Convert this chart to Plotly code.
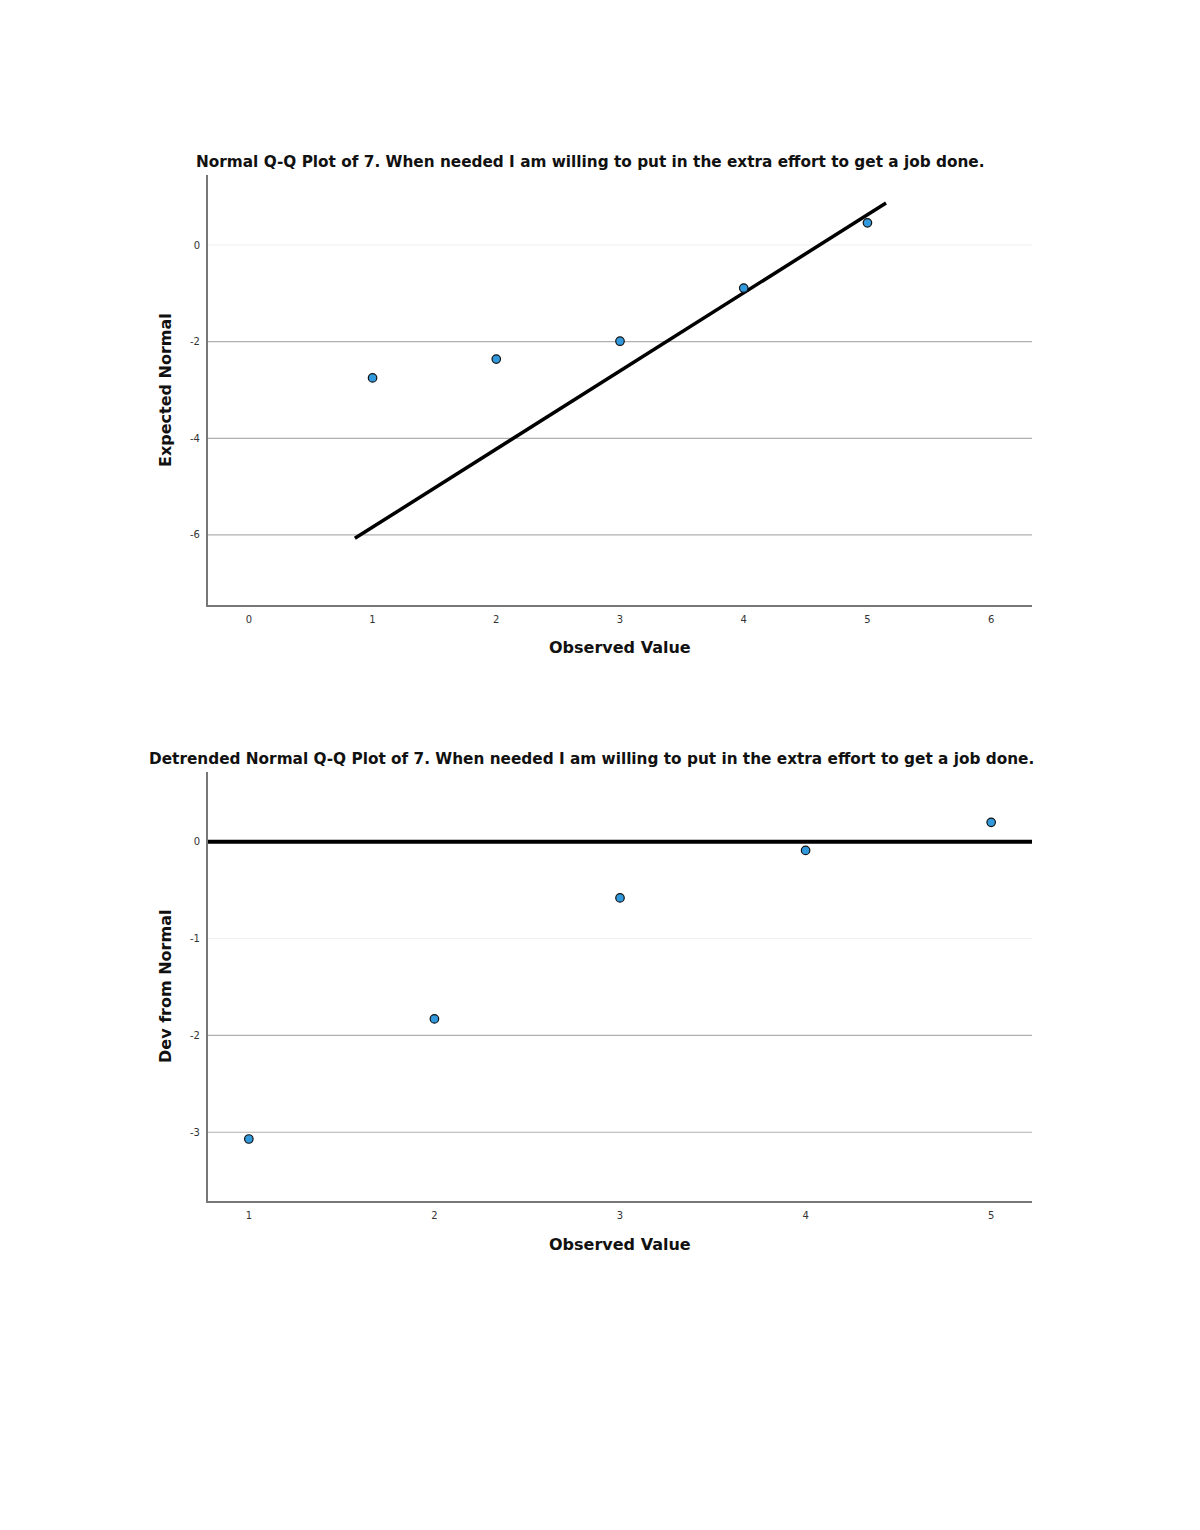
import plotly.graph_objects as go

# ---- data ----
qq_observed = [1, 2, 3, 4, 5]
qq_expected = [-2.75, -2.36, -1.99, -0.89, 0.46]
ref_line_x = [0.857, 5.15]
ref_line_y = [-6.07, 0.87]

dt_observed = [1, 2, 3, 4, 5]
dt_dev = [-3.07, -1.83, -0.58, -0.09, 0.20]

top_xticks = [0, 1, 2, 3, 4, 5, 6]
top_xlabels = ["0", "1", "2", "3", "4", "5", "6"]
top_yticks = [0, -2, -4, -6]
top_ylabels = ["0", "-2", "-4", "-6"]
top_dark_grid = [-2, -4, -6]
top_faint_grid = [0]
bot_xticks = [1, 2, 3, 4, 5]
bot_xlabels = ["1", "2", "3", "4", "5"]
bot_yticks = [0, -1, -2, -3]
bot_ylabels = ["0", "-1", "-2", "-3"]
bot_dark_grid = [-2, -3]
bot_faint_grid = [-1]

title_top = "Normal Q-Q Plot of 7. When needed I am willing to put in the extra effort to get a job done."
title_bot = "Detrended Normal Q-Q Plot of 7. When needed I am willing to put in the extra effort to get a job done."

W, H = 1200, 1530
def px_x(p):
    return p / W
def px_y(p):
    return 1 - p / H

marker = dict(size=8.5, color="#3399DD", line=dict(color="#111111", width=1.2))
tfont = dict(family="DejaVu Sans", size=10, color="#333333")
afont = dict(family="DejaVu Sans", size=16, color="#111111")
ttfont = dict(family="DejaVu Sans", size=15.3, color="#111111")

fig = go.Figure()
fig.add_trace(go.Scatter(x=ref_line_x, y=ref_line_y, mode="lines",
                         line=dict(color="black", width=3.5), xaxis="x", yaxis="y",
                         showlegend=False, hoverinfo="skip"))
fig.add_trace(go.Scatter(x=qq_observed, y=qq_expected, mode="markers", marker=marker,
                         xaxis="x", yaxis="y", showlegend=False))
fig.add_trace(go.Scatter(x=dt_observed, y=dt_dev, mode="markers", marker=marker,
                         xaxis="x2", yaxis="y2", showlegend=False))

axis_common = dict(showline=True, linecolor="#777777", linewidth=2, zeroline=False,
                   ticks="", tickfont=tfont, mirror=False, ticklabelstandoff=4,
                   showgrid=False)

def hline(xref, yref, v, color, width):
    return dict(type="line", xref=xref, yref=yref, x0=0, x1=1, y0=v, y1=v,
                line=dict(color=color, width=width), layer="below")

shapes = []
for v in top_faint_grid:
    shapes.append(hline("x domain", "y", v, "#efefef", 1))
for v in top_dark_grid:
    shapes.append(hline("x domain", "y", v, "#b0b0b0", 1.2))
for v in bot_faint_grid:
    shapes.append(hline("x2 domain", "y2", v, "#efefef", 1))
for v in bot_dark_grid:
    shapes.append(hline("x2 domain", "y2", v, "#b0b0b0", 1.2))
shapes.append(hline("x2 domain", "y2", 0, "black", 4))

def ann(text, x, y, font, angle=0):
    return dict(text=text, x=px_x(x), y=px_y(y), xref="paper", yref="paper",
                xanchor="center", yanchor="middle", showarrow=False,
                textangle=angle, font=font)

fig.update_layout(
    width=W, height=H,
    margin=dict(l=0, r=0, t=0, b=0),
    paper_bgcolor="white", plot_bgcolor="white",
    xaxis=dict(domain=[px_x(208), px_x(1032)], range=[-0.33, 6.33], anchor="y",
               tickvals=top_xticks, ticktext=top_xlabels, **axis_common),
    yaxis=dict(domain=[px_y(605), px_y(175)], range=[-7.45, 1.45], anchor="x",
               tickvals=top_yticks, ticktext=top_ylabels, **axis_common),
    xaxis2=dict(domain=[px_x(208), px_x(1032)], range=[0.78, 5.22], anchor="y2",
                tickvals=bot_xticks, ticktext=bot_xlabels, **axis_common),
    yaxis2=dict(domain=[px_y(1201), px_y(772)], range=[-3.71, 0.72], anchor="x2",
                tickvals=bot_yticks, ticktext=bot_ylabels, **axis_common),
    shapes=shapes,
    annotations=[
        ann("<b>" + title_top + "</b>", 590, 162, ttfont),
        ann("<b>" + title_bot + "</b>", 591, 759, ttfont),
        ann("<b>Observed Value</b>", 620, 647, afont),
        ann("<b>Observed Value</b>", 620, 1244, afont),
        ann("<b>Expected Normal</b>", 165, 390, afont, -90),
        ann("<b>Dev from Normal</b>", 165, 987, afont, -90),
    ],
)

fig.write_html("out.html")
